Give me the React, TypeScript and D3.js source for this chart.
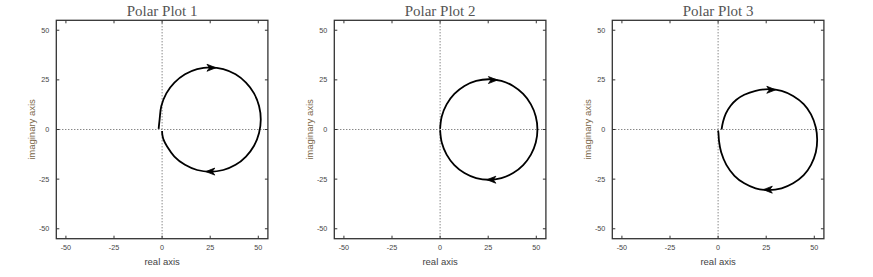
import React from "react";
import * as d3 from "d3";

const titles = ["Polar Plot 1", "Polar Plot 2", "Polar Plot 3"];
const ticks = [-50, -25, 0, 25, 50];
const domain: [number, number] = [-55, 55];

const curve1: [number, number][] = [
  [-1.8, 0.3], [-1.3, 5], [-0.4, 11.8], [2.2, 18.2], [6.4, 23.6], [11.9, 27.8], [18.2, 30.4],
  [25, 31.3], [31.8, 30.4], [38.2, 27.8], [43.6, 23.6], [47.8, 18.2], [50.4, 11.8], [51.3, 5],
  [50.4, -1.8], [47.8, -8.2], [43.6, -13.6], [38.2, -17.8], [31.8, -20.4], [25, -21.3],
  [18.2, -20.4], [11.9, -17.8], [6.4, -13.6], [2.6, -8.6], [0.7, -5], [0.1, -2.5], [0, -0.8],
];
const curve2: [number, number][] = [
  [0, 0.3], [0.86, 6.55], [3.39, 12.65], [7.41, 17.89], [12.65, 21.91], [18.75, 24.44],
  [25.3, 25.3], [31.85, 24.44], [37.95, 21.91], [43.19, 17.89], [47.21, 12.65], [49.74, 6.55],
  [50.6, 0], [49.74, -6.55], [47.21, -12.65], [43.19, -17.89], [37.95, -21.91], [31.85, -24.44],
  [25.3, -25.3], [18.75, -24.44], [12.65, -21.91], [7.41, -17.89], [3.39, -12.65], [0.86, -6.55],
  [0, -0.3],
];
const curve3: [number, number][] = [
  [1.8, 0], [2.6, 4], [4.0, 8], [6.5, 12], [9.5, 15], [13.6, 17.5], [19.5, 19.5], [26.3, 20.3],
  [33, 19.5], [39, 16.9], [44.5, 12.8], [48.3, 7.6], [50.8, 1], [51.5, -5], [50.8, -11.5],
  [48.3, -17.8], [44.5, -23], [39, -27.1], [33, -29.6], [26.3, -30.5], [19.5, -29.6],
  [13.6, -27.1], [8.5, -23.3], [4.3, -17.8], [1.6, -11.5], [0.5, -6], [0.2, -2], [0, -0.5],
];
const curves = [curve1, curve2, curve3];

// arrow tips: [real, imaginary, direction (+1 right, -1 left)]
const arrows1: [number, number, number][] = [[28, 31.1, 1], [22.7, -21.2, -1]];
const arrows2: [number, number, number][] = [[29.8, 24.9, 1], [24.3, -25.3, -1]];
const arrows3: [number, number, number][] = [[30, 20.0, 1], [23.5, -30.3, -1]];
const arrows = [arrows1, arrows2, arrows3];

const W = 873;
const H = 277;
const panelLeft0 = 56.3;
const panelStep = 278;
const panelW = 211.6;
const top = 20.3;
const bottom = 238.7;

function Panel({ i }: { i: number }) {
  const left = panelLeft0 + i * panelStep;
  const x = d3.scaleLinear().domain(domain).range([left, left + panelW]);
  const y = d3.scaleLinear().domain(domain).range([bottom, top]);
  const line = d3
    .line<[number, number]>()
    .x((d) => x(d[0]))
    .y((d) => y(d[1]))
    .curve(d3.curveCatmullRom.alpha(0.5));
  const tl = 3;
  const cx = (left + left + panelW) / 2;
  return (
    <g>
      <text x={cx} y={16} textAnchor="middle" fontFamily="'Liberation Serif', serif" fontSize={15} fill="#555">
        {titles[i]}
      </text>
      {/* zero lines */}
      <line x1={x(0)} x2={x(0)} y1={top} y2={bottom} stroke="#555" strokeWidth={1} strokeDasharray="1,2" />
      <line x1={left} x2={left + panelW} y1={y(0)} y2={y(0)} stroke="#555" strokeWidth={1} strokeDasharray="1,2" />
      {/* ticks */}
      {ticks.map((t) => (
        <g key={"t" + t}>
          <line x1={x(t)} x2={x(t)} y1={bottom} y2={bottom - tl} stroke="#333" strokeWidth={1} />
          <line x1={x(t)} x2={x(t)} y1={top} y2={top + tl} stroke="#333" strokeWidth={1} />
          <line x1={left} x2={left + tl} y1={y(t)} y2={y(t)} stroke="#333" strokeWidth={1} />
          <line x1={left + panelW} x2={left + panelW - tl} y1={y(t)} y2={y(t)} stroke="#333" strokeWidth={1} />
          <text x={x(t)} y={250} textAnchor="middle" fontFamily="'Liberation Sans', sans-serif" fontSize={7.2} fill="#444">
            {t}
          </text>
          <text x={left - 7} y={y(t) + 2.6} textAnchor="end" fontFamily="'Liberation Sans', sans-serif" fontSize={7.2} fill="#444">
            {t}
          </text>
        </g>
      ))}
      <text x={cx} y={264.5} textAnchor="middle" fontFamily="'Liberation Sans', sans-serif" fontSize={9.5} fill="#444">
        real axis
      </text>
      <text
        transform={`translate(${left - 21},${(top + bottom) / 2}) rotate(-90)`}
        textAnchor="middle"
        fontFamily="'Liberation Sans', sans-serif"
        fontSize={9.5}
        fill="#7a6648"
      >
        imaginary axis
      </text>
      {/* curve */}
      <path d={line(curves[i]) || ""} fill="none" stroke="#000" strokeWidth={1.8} strokeLinejoin="round" />
      {arrows[i].map((a, k) => {
        const tx = x(a[0]);
        const ty = y(a[1]);
        const d = a[2];
        const L = 9;
        const hw = 3.5;
        const n = 6.5;
        const p = `M${tx},${ty} L${tx - d * L},${ty - hw} L${tx - d * n},${ty} L${tx - d * L},${ty + hw} Z`;
        return <path key={k} d={p} fill="#000" stroke="#000" strokeWidth={0.8} strokeLinejoin="miter" />;
      })}
      {/* frame */}
      <rect x={left} y={top} width={panelW} height={bottom - top} fill="none" stroke="#333" strokeWidth={1.3} />
    </g>
  );
}

export default function App() {
  return (
    <svg
      width={W}
      height={H}
      viewBox={`0 0 ${W} ${H}`}
      style={{ position: "absolute", left: 0, top: 0, background: "#fff" }}
    >
      <rect x={0} y={0} width={W} height={H} fill="#fff" />
      {[0, 1, 2].map((i) => (
        <Panel key={i} i={i} />
      ))}
    </svg>
  );
}
